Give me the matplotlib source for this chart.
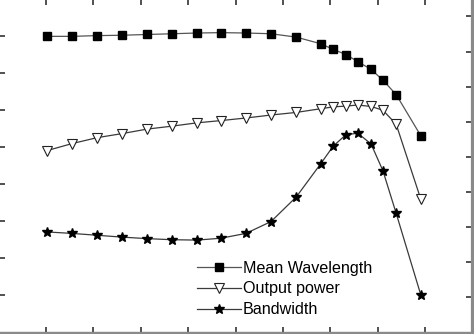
import matplotlib
matplotlib.use("Agg")
import matplotlib.pyplot as plt

# ---- data ----
x = [1.02, 1.55, 2.08, 2.61, 3.13, 3.66, 4.19, 4.69, 5.22, 5.75, 6.28,
     6.80, 7.06, 7.33, 7.58, 7.86, 8.11, 8.39, 8.91]
mean_wavelength = [7.98, 7.98, 8.00, 8.01, 8.03, 8.05, 8.07, 8.08, 8.07, 8.05,
                   7.96, 7.78, 7.63, 7.49, 7.30, 7.09, 6.80, 6.41, 5.30]
output_power = [4.90, 5.09, 5.25, 5.36, 5.48, 5.56, 5.65, 5.71, 5.78, 5.86,
                5.93, 6.03, 6.08, 6.10, 6.13, 6.09, 5.99, 5.61, 3.59]
bandwidth = [2.71, 2.67, 2.62, 2.57, 2.53, 2.50, 2.49, 2.54, 2.67, 2.99,
             3.65, 4.55, 5.02, 5.33, 5.37, 5.08, 4.36, 3.21, 1.01]
labels = ["Mean Wavelength", "Output power", "Bandwidth"]
x_ticks = list(range(0, 11))
y_left_ticks = list(range(0, 10))
y_right_ticks = list(range(0, 10))

plt.rcParams['font.family'] = ['Liberation Sans', 'DejaVu Sans']

fig = plt.figure(figsize=(4.74, 3.34), dpi=100)
ax = fig.add_axes([-1.5 / 474, 1.5 / 334, 1.0, 1.0])

lc = '#3a3a3a'
ax.plot(x, mean_wavelength, color='#555555', lw=0.9, marker='s', ms=5.2,
        mfc='black', mec='black', label=labels[0])
ax.plot(x, output_power, color=lc, lw=0.9, marker='v', ms=6.5,
        mfc='white', mec='#222222', mew=0.8, label=labels[1])
ax.plot(x, bandwidth, color=lc, lw=0.9, marker='*', ms=7.0,
        mfc='black', mec='black', label=labels[2])

ax.set_xlim(0, 10)
ax.set_ylim(0, 9.0)
ax.set_xticks(x_ticks)
ax.set_yticks(y_left_ticks)
ax.set_xticklabels([])
ax.set_yticklabels([])
ax.tick_params(axis='both', direction='in', length=4.5, width=1.1,
               color='#222222', top=True, bottom=True, left=True, right=False)

ax2 = ax.twinx()
ax2.set_ylim(0, 9.51)
ax2.set_yticks(y_right_ticks)
ax2.set_yticklabels([])
ax2.tick_params(axis='y', direction='in', length=4.5, width=1.1, color='#222222')

for a in (ax, ax2):
    for s in ('left', 'top'):
        a.spines[s].set_visible(False)
    for s in ('right', 'bottom'):
        a.spines[s].set_color('#8a8a8a')
        a.spines[s].set_linewidth(1.6)

leg = ax.legend(loc='upper left', bbox_to_anchor=(197 / 474, 1 - 260.5 / 334),
                bbox_transform=fig.transFigure, frameon=False, fontsize=11.6,
                handlelength=2.7, handletextpad=0.15, labelspacing=0.37,
                borderpad=0, borderaxespad=0)

fig.savefig('out.png', dpi=100)
